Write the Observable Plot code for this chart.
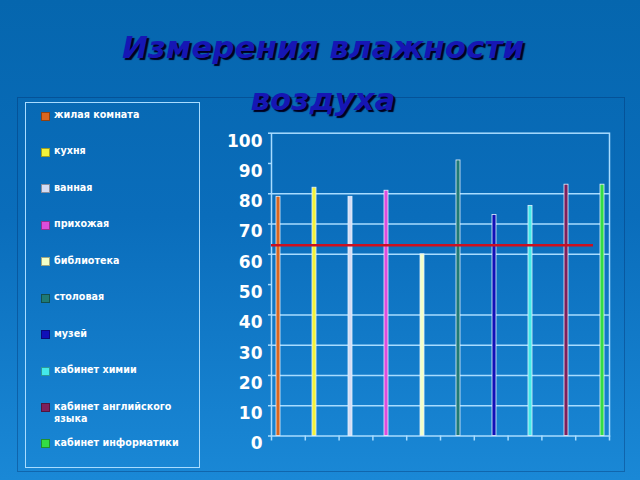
<!DOCTYPE html>
<html>
<head>
<meta charset="utf-8">
<script src="https://cdn.jsdelivr.net/npm/d3@7"></script>
<script src="https://cdn.jsdelivr.net/npm/@observablehq/plot@0.6"></script>
<style>
  html, body { margin: 0; padding: 0; }
  body {
    width: 640px; height: 480px; position: relative; overflow: hidden;
    background: linear-gradient(180deg, #0566ae 0%, #0a6dbb 45%, #1a88d6 100%);
    font-family: "DejaVu Sans", sans-serif;
  }
  #slideframe {
    position: absolute; left: 17px; top: 97px; width: 608px; height: 375px;
    border: 1px solid rgba(0, 40, 100, 0.35); box-sizing: border-box;
  }
  #title {
    position: absolute; left: 0; top: 21px; width: 646px; text-align: center;
    font-family: "DejaVu Sans", sans-serif; font-weight: bold; font-style: italic;
    font-size: 31px; line-height: 52px; color: #1616b4;
    text-shadow: 2px 2px 1px #00001e;
  }
  #legend {
    position: absolute; left: 25px; top: 102px; width: 175px; height: 366px;
    border: 1.5px solid #a8dcff; box-sizing: border-box; padding-top: 6px;
  }
  .item { display: flex; align-items: flex-start; height: 36.45px; padding-left: 15px; }
  .sw { width: 7px; height: 7px; margin-top: 2.5px; margin-right: 4px; flex: none;
        border: 0.5px solid rgba(0,0,0,0.35); }
  .lbl { color: #ffffff; font-weight: bold; font-size: 9.6px; line-height: 12.3px; width: 140px; }
  .chart { position: absolute; left: 210px; top: 110px; }
</style>
</head>
<body>
<div id="slideframe"></div>
<div id="title">Измерения влажности<br>воздуха</div>
<div id="legend"></div>
<div id="main" class="chart"></div>
<div id="ticks" class="chart"></div>
<script>
const categories = ["жилая комната", "кухня", "ванная", "прихожая", "библиотека",
  "столовая", "музей", "кабинет химии", "кабинет английского языка", "кабинет информатики"];
const values = [79, 82, 79, 81, 60, 91, 73, 76, 83, 83];
const colors = ["#d9661f", "#f2f23a", "#d4dcf4", "#dd4ddd", "#f2ffc8",
  "#1f7a75", "#1010b8", "#44eaea", "#7e1f5c", "#33dd44"];
const yTicks = [0, 10, 20, 30, 40, 50, 60, 70, 80, 90, 100];
const gridValues = [10, 20, 30, 40, 60, 70, 80];
const norm = [63];
const xTickMarks = [0, 1, 2, 3, 4, 5, 6, 7, 8, 9, 10];

const data = categories.map((c, i) => ({category: c, value: values[i]}));
const gridColor = "#a8dcff";

// legend
const legend = document.getElementById("legend");
categories.forEach((c, i) => {
  const it = document.createElement("div");
  it.className = "item";
  const sw = document.createElement("div");
  sw.className = "sw";
  sw.style.background = colors[i];
  const lb = document.createElement("div");
  lb.className = "lbl";
  lb.textContent = c;
  it.appendChild(sw); it.appendChild(lb);
  legend.appendChild(it);
});

const common = {
  width: 420, height: 350,
  marginLeft: 61, marginRight: 21, marginTop: 22.7, marginBottom: 24.5,
  style: {background: "transparent", overflow: "visible", color: "white",
          fontFamily: "DejaVu Sans", fontWeight: "bold", fontSize: "17px"}
};

const main = Plot.plot({
  ...common,
  x: {type: "band", domain: categories, paddingInner: 0.878, paddingOuter: 0.034, align: 0.5, axis: null},
  y: {domain: [0, 100], axis: null},
  color: {domain: categories, range: colors},
  marks: [
    Plot.ruleY(gridValues, {stroke: gridColor, strokeWidth: 1.5}),
    Plot.frame({stroke: gridColor, strokeWidth: 1.5}),
    Plot.axisY({ticks: yTicks, label: null, tickSize: 3, tickFormat: () => "", stroke: gridColor, strokeWidth: 1.5}),
    Plot.axisY({ticks: yTicks, label: null, tickSize: 0, tickPadding: 9, fill: "white",
      fontSize: 17, fontWeight: "bold", fontFamily: "DejaVu Sans", dy: 8}),
    Plot.barY(data, {x: "category", y: "value", fill: "category", stroke: "#e6f2ff", strokeWidth: 0.8}),
    Plot.ruleY(norm, {stroke: "#cc1020", strokeWidth: 2.5, insetRight: 16})
  ]
});
document.getElementById("main").appendChild(main);

const ticks = Plot.plot({
  ...common,
  x: {domain: [0, 10], axis: null},
  marks: [
    Plot.axisX({ticks: xTickMarks, label: null, tickSize: 5, tickFormat: () => "", stroke: gridColor, strokeWidth: 1.5})
  ]
});
document.getElementById("ticks").appendChild(ticks);
</script>
</body>
</html>
